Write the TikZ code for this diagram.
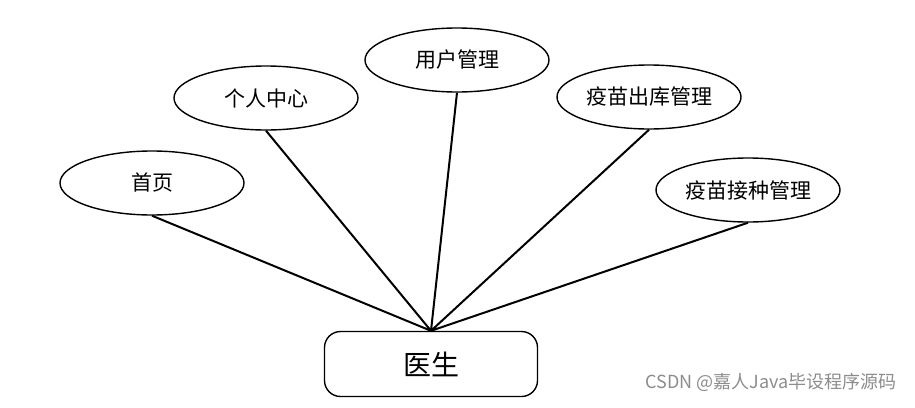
\documentclass[tikz,border=0pt]{standalone}
\usepackage{fontspec}
\newfontfamily\cjk{Noto Sans CJK SC}
\usetikzlibrary{positioning,shapes.geometric}
\tikzset{attr/.style={ellipse,draw,line width=1.4pt,minimum width=184pt,minimum height=64pt,inner sep=0pt,font=\cjk\fontsize{21}{21}\selectfont}}
\tikzset{role/.style={rectangle,rounded corners=16pt,draw,line width=1.4pt,minimum width=213pt,minimum height=65pt,font=\cjk\fontsize{28}{28}\selectfont}}

\begin{document}
\begin{tikzpicture}[x=1pt,y=-1pt,line width=2pt]
                \useasboundingbox (0,0) rectangle (915,407);
                \node[role] (doc) at (431,364) {医生};
                \node[attr] (home) at (152,183) {首页};
                \node[attr] (center) at (266,98) {个人中心};
                \node[attr] (user) at (457,60) {用户管理};
                \node[attr] (out) at (649,97) {疫苗出库管理};
                \node[attr] (vacc) at (748,190) {疫苗接种管理};
                \node[font=\cjk\fontsize{18}{18}\selectfont,text=black!45,anchor=east] (mark) at (901,382) {CSDN @嘉人Java毕设程序源码};
                \path[draw]
                    (home.south) -- (doc.north)
                    (center.south) -- (doc.north)
                    (user.south) -- (doc.north)
                    (out.south) -- (doc.north)
                    (vacc.south) -- (doc.north)
                ;
            \end{tikzpicture}
\end{document}
